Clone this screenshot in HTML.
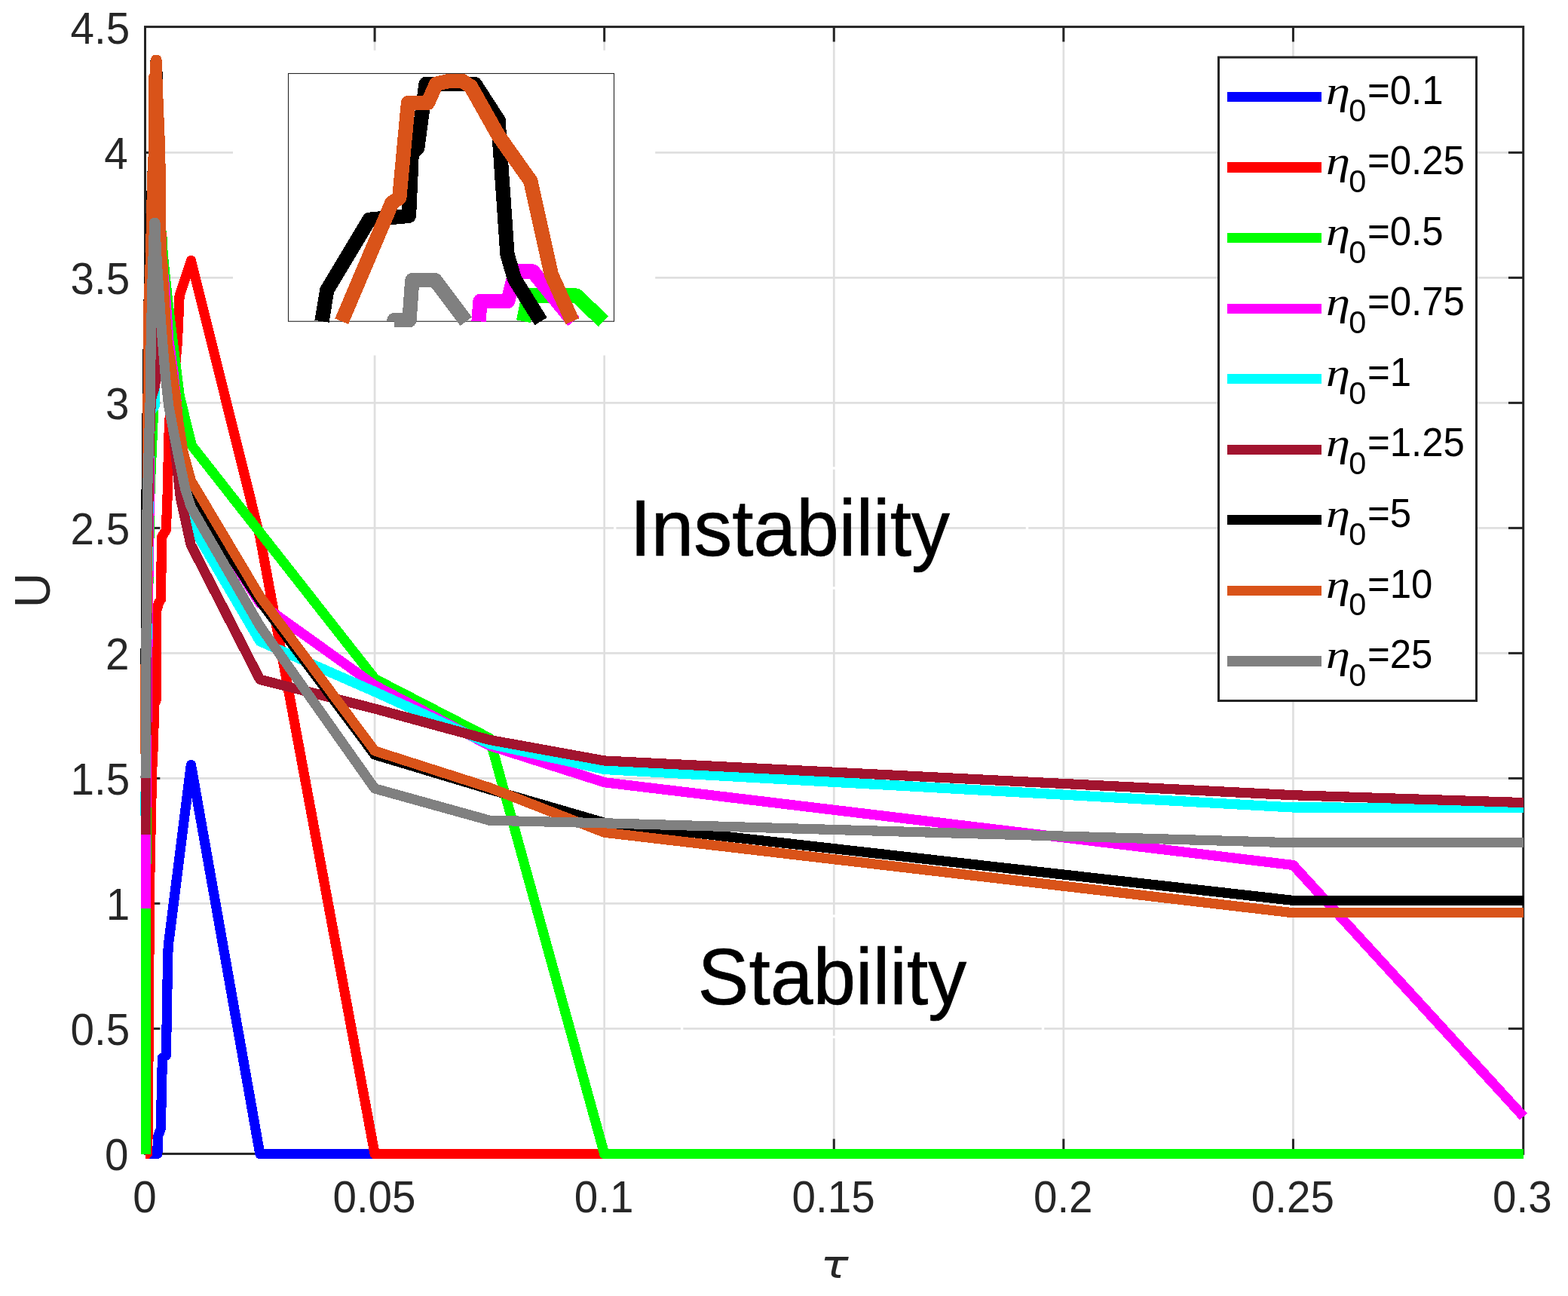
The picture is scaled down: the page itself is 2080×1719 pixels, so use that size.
<!DOCTYPE html>
<html lang="en"><head><meta charset="utf-8"><title>U versus tau stability diagram</title>
<style>
html,body{margin:0;padding:0;background:#fff;}
body{width:2080px;height:1719px;overflow:hidden;}
svg{display:block;}
text{font-family:"Liberation Sans",sans-serif;}
.dl{fill:none;stroke-linejoin:round;stroke-linecap:butt;}
</style></head><body>
<svg width="2080" height="1719" viewBox="0 0 2080 1719">
<rect x="0" y="0" width="2080" height="1719" fill="#ffffff"/>
<g stroke="#dfdfdf" stroke-width="2.7" fill="none">
<line x1="497.08" y1="35.60" x2="497.08" y2="1530.40"/>
<line x1="801.67" y1="35.60" x2="801.67" y2="1530.40"/>
<line x1="1106.26" y1="35.60" x2="1106.26" y2="1530.40"/>
<line x1="1410.84" y1="35.60" x2="1410.84" y2="1530.40"/>
<line x1="1715.42" y1="35.60" x2="1715.42" y2="1530.40"/>
<line x1="192.50" y1="1364.36" x2="2020.70" y2="1364.36"/>
<line x1="192.50" y1="1198.36" x2="2020.70" y2="1198.36"/>
<line x1="192.50" y1="1032.36" x2="2020.70" y2="1032.36"/>
<line x1="192.50" y1="866.36" x2="2020.70" y2="866.36"/>
<line x1="192.50" y1="700.36" x2="2020.70" y2="700.36"/>
<line x1="192.50" y1="534.36" x2="2020.70" y2="534.36"/>
<line x1="192.50" y1="368.36" x2="2020.70" y2="368.36"/>
<line x1="192.50" y1="202.36" x2="2020.70" y2="202.36"/>
</g>
<g stroke="#242424" stroke-width="3.0" fill="none">
<rect x="192.50" y="35.60" width="1828.20" height="1494.80"/>
<line x1="497.08" y1="1530.40" x2="497.08" y2="1510.60"/>
<line x1="497.08" y1="35.60" x2="497.08" y2="55.40"/>
<line x1="801.67" y1="1530.40" x2="801.67" y2="1510.60"/>
<line x1="801.67" y1="35.60" x2="801.67" y2="55.40"/>
<line x1="1106.26" y1="1530.40" x2="1106.26" y2="1510.60"/>
<line x1="1106.26" y1="35.60" x2="1106.26" y2="55.40"/>
<line x1="1410.84" y1="1530.40" x2="1410.84" y2="1510.60"/>
<line x1="1410.84" y1="35.60" x2="1410.84" y2="55.40"/>
<line x1="1715.42" y1="1530.40" x2="1715.42" y2="1510.60"/>
<line x1="1715.42" y1="35.60" x2="1715.42" y2="55.40"/>
<line x1="192.50" y1="1364.36" x2="212.30" y2="1364.36"/>
<line x1="2020.70" y1="1364.36" x2="2000.90" y2="1364.36"/>
<line x1="192.50" y1="1198.36" x2="212.30" y2="1198.36"/>
<line x1="2020.70" y1="1198.36" x2="2000.90" y2="1198.36"/>
<line x1="192.50" y1="1032.36" x2="212.30" y2="1032.36"/>
<line x1="2020.70" y1="1032.36" x2="2000.90" y2="1032.36"/>
<line x1="192.50" y1="866.36" x2="212.30" y2="866.36"/>
<line x1="2020.70" y1="866.36" x2="2000.90" y2="866.36"/>
<line x1="192.50" y1="700.36" x2="212.30" y2="700.36"/>
<line x1="2020.70" y1="700.36" x2="2000.90" y2="700.36"/>
<line x1="192.50" y1="534.36" x2="212.30" y2="534.36"/>
<line x1="2020.70" y1="534.36" x2="2000.90" y2="534.36"/>
<line x1="192.50" y1="368.36" x2="212.30" y2="368.36"/>
<line x1="2020.70" y1="368.36" x2="2000.90" y2="368.36"/>
<line x1="192.50" y1="202.36" x2="212.30" y2="202.36"/>
<line x1="2020.70" y1="202.36" x2="2000.90" y2="202.36"/>
</g>
<g class="dl" stroke-width="13.2" shape-rendering="crispEdges">
<polyline stroke="#0000ff" points="192.50,1530.40 208.90,1530.40 209.10,1520.00 210.00,1506.00 213.40,1497.00 213.90,1470.00 214.50,1440.00 215.30,1410.00 215.40,1403.50 220.60,1399.50 220.70,1380.00 221.50,1340.00 222.10,1300.00 222.60,1270.00 223.30,1254.00 253.40,1014.50 344.80,1530.40 2021.00,1530.40"/>
<polyline stroke="#ff0000" points="192.50,1530.40 195.40,1530.40 196.20,1500.00 196.20,1415.00 197.20,1405.00 197.20,1270.00 198.50,1262.00 198.50,1160.00 199.50,1152.00 199.50,1110.00 200.40,1103.00 200.40,1062.00 201.25,1056.00 201.25,1020.00 202.25,1014.00 202.25,1000.00 203.25,994.00 203.25,970.00 204.50,962.00 204.50,935.00 207.25,928.00 207.25,812.00 210.40,800.00 213.50,795.00 214.10,745.00 214.70,712.00 220.40,703.00 220.80,690.00 221.90,665.00 223.40,600.00 224.50,560.00 232.90,481.00 235.50,452.00 238.10,392.50 253.50,345.60 344.80,712.00 497.10,1530.40 2021.00,1530.40"/>
<polyline stroke="#00ff00" points="193.50,1531.00 193.50,1280.00 193.90,1262.00 193.70,1200.00 194.50,1000.00 195.30,870.00 199.00,650.00 203.40,550.00 211.40,336.80 211.70,309.30 214.60,309.30 216.20,336.80 219.00,365.00 223.00,402.00 228.80,450.00 238.20,525.00 254.40,591.00 497.50,900.60 649.40,979.00 801.70,1530.40 2021.00,1530.40"/>
<polyline stroke="#ff00ff" points="193.30,1205.00 193.60,1110.00 194.50,1000.00 196.50,800.00 198.20,660.00 198.20,548.00 204.00,535.00 208.64,337.80 208.73,315.20 210.42,315.20 210.88,283.20 211.90,283.20 214.14,337.80 216.30,358.00 218.90,385.00 222.00,425.00 223.90,452.00 229.50,490.00 233.90,530.00 238.20,575.00 253.40,657.00 344.80,800.00 497.10,909.00 649.40,989.00 801.70,1037.70 1715.40,1147.50 2021.00,1481.00"/>
<polyline stroke="#00ffff" points="192.90,1082.00 193.80,950.00 196.00,750.00 198.00,600.00 198.50,548.00 205.30,538.00 206.00,500.00 209.00,420.00 212.00,345.00 216.00,420.00 221.00,500.00 229.00,560.00 238.20,625.00 253.40,695.00 344.80,850.60 497.10,917.50 649.40,986.80 801.70,1020.50 1715.40,1071.00 2021.00,1071.50"/>
<polyline stroke="#a2142f" points="193.50,1107.00 194.00,950.00 195.50,750.00 198.00,600.00 200.30,530.00 205.30,513.00 207.20,500.00 209.00,450.00 212.50,400.00 216.00,450.00 220.40,502.00 227.90,556.00 239.40,660.00 253.10,722.50 344.80,901.30 497.10,940.00 649.40,981.40 801.70,1009.00 1715.40,1054.70 2021.00,1064.60"/>
<polyline stroke="#000000" points="192.60,1000.00 193.00,900.00 193.60,700.00 195.60,500.00 197.00,400.00 199.11,336.81 199.42,303.46 202.00,227.66 204.40,223.62 204.57,155.91 204.92,150.86 205.38,83.15 208.47,83.15 209.84,121.55 209.90,141.76 210.38,265.06 210.82,291.33 212.42,336.81 215.50,380.00 219.50,455.00 229.00,525.00 238.20,590.00 253.40,657.50 344.80,797.00 497.10,1001.00 649.40,1046.90 801.70,1091.30 1715.40,1194.40 2021.00,1194.40"/>
<polyline stroke="#d95319" points="192.70,1000.00 192.70,895.00 194.90,823.00 195.40,650.00 196.50,455.00 197.10,400.00 198.40,370.00 199.70,335.00 200.35,296.00 201.60,245.00 202.50,215.00 203.66,203.00 203.66,102.40 205.55,102.40 206.06,82.10 206.80,79.10 207.90,79.10 210.20,138.00 212.30,190.00 213.30,235.00 213.50,290.00 214.60,336.80 215.90,350.00 217.15,380.00 218.40,400.00 219.65,420.00 222.15,455.00 225.60,475.00 229.35,500.00 233.10,525.00 236.85,560.00 243.10,600.00 253.40,637.50 344.80,791.00 497.10,996.00 649.40,1044.70 801.70,1104.20 1715.40,1210.80 2021.00,1210.80"/>
<polyline stroke="#808080" points="193.10,1032.00 194.50,760.00 195.20,665.00 199.40,525.00 200.20,450.00 201.60,396.00 202.20,365.00 203.50,329.00 204.70,295.30 205.90,295.30 207.15,327.00 209.00,359.00 211.60,396.00 213.60,427.50 215.70,455.00 219.50,500.00 223.60,537.50 230.70,575.00 238.25,612.50 245.75,648.75 253.40,672.50 344.80,830.40 497.10,1045.90 649.40,1088.20 801.70,1091.80 1715.40,1117.80 2021.00,1117.80"/>
</g>
<g fill="none" stroke="#ffffff" stroke-width="3.4">
<rect x="815.7" y="621" width="546.8" height="159"/>
<rect x="904.6" y="1215" width="478.9" height="160.5"/>
</g>
<text transform="translate(835.40,737.30) scale(0.9850,1.0200)" font-size="103.4" text-anchor="start" fill="#000000" stroke="#000000" stroke-width="0.7">Instability</text>
<text transform="translate(925.60,1331.90) scale(0.9850,1.0200)" font-size="103.4" text-anchor="start" fill="#000000" stroke="#000000" stroke-width="0.7">Stability</text>
<rect x="309" y="66.8" width="560.2" height="404.6" fill="#ffffff"/>
<rect x="382.5" y="97.5" width="432" height="328.75" fill="none" stroke="#262626" stroke-width="1.1"/>
<g class="dl" stroke-width="19.3" shape-rendering="crispEdges">
<polyline stroke="#00ff00" points="694.50,426.25 701.25,392.00 764.50,392.00 800.50,426.25"/>
<polyline stroke="#ff00ff" points="635.00,426.25 637.00,399.50 673.75,399.50 683.75,360.00 706.75,360.00 760.75,426.25"/>
<polyline stroke="#000000" points="427.00,426.25 433.75,385.00 490.00,291.25 542.50,286.25 546.25,202.50 553.75,196.25 565.00,111.50 630.00,111.50 661.25,160.00 662.50,185.00 673.00,337.50 682.50,370.00 717.50,426.25"/>
<polyline stroke="#d95319" points="453.25,426.25 520.00,268.75 529.75,262.50 541.50,136.25 567.50,136.25 578.75,111.25 595.00,107.50 613.50,107.50 624.50,114.75 661.25,180.00 703.75,240.00 731.25,363.75 759.25,426.25"/>
<polyline stroke="#808080" points="522.92,426.25 522.92,424.60 543.00,424.60 546.75,371.75 577.25,371.75 618.25,426.25"/>
</g>
<rect x="1616.5" y="76" width="342" height="853.5" fill="#ffffff" stroke="#242424" stroke-width="3.0"/>
<line x1="1628" y1="128.50" x2="1753" y2="128.50" stroke="#0000ff" stroke-width="13.2" shape-rendering="crispEdges"/>
<text transform="translate(1759.10,137.60) scale(1.2500,1.0000)" font-size="51.7" text-anchor="start" fill="#000000" style="font-family:'Liberation Serif',serif;font-style:italic">η</text>
<text transform="translate(1789.20,161.40) scale(1.0000,1.0350)" font-size="41.5" text-anchor="start" fill="#000000">0</text>
<text transform="translate(1813.90,137.60) scale(1.0000,1.0350)" font-size="51" text-anchor="start" fill="#000000">=0.1</text>
<line x1="1628" y1="222.06" x2="1753" y2="222.06" stroke="#ff0000" stroke-width="13.2" shape-rendering="crispEdges"/>
<text transform="translate(1759.10,231.16) scale(1.2500,1.0000)" font-size="51.7" text-anchor="start" fill="#000000" style="font-family:'Liberation Serif',serif;font-style:italic">η</text>
<text transform="translate(1789.20,254.96) scale(1.0000,1.0350)" font-size="41.5" text-anchor="start" fill="#000000">0</text>
<text transform="translate(1813.90,231.16) scale(1.0000,1.0350)" font-size="51" text-anchor="start" fill="#000000">=0.25</text>
<line x1="1628" y1="315.62" x2="1753" y2="315.62" stroke="#00ff00" stroke-width="13.2" shape-rendering="crispEdges"/>
<text transform="translate(1759.10,324.72) scale(1.2500,1.0000)" font-size="51.7" text-anchor="start" fill="#000000" style="font-family:'Liberation Serif',serif;font-style:italic">η</text>
<text transform="translate(1789.20,348.52) scale(1.0000,1.0350)" font-size="41.5" text-anchor="start" fill="#000000">0</text>
<text transform="translate(1813.90,324.72) scale(1.0000,1.0350)" font-size="51" text-anchor="start" fill="#000000">=0.5</text>
<line x1="1628" y1="409.18" x2="1753" y2="409.18" stroke="#ff00ff" stroke-width="13.2" shape-rendering="crispEdges"/>
<text transform="translate(1759.10,418.28) scale(1.2500,1.0000)" font-size="51.7" text-anchor="start" fill="#000000" style="font-family:'Liberation Serif',serif;font-style:italic">η</text>
<text transform="translate(1789.20,442.08) scale(1.0000,1.0350)" font-size="41.5" text-anchor="start" fill="#000000">0</text>
<text transform="translate(1813.90,418.28) scale(1.0000,1.0350)" font-size="51" text-anchor="start" fill="#000000">=0.75</text>
<line x1="1628" y1="502.74" x2="1753" y2="502.74" stroke="#00ffff" stroke-width="13.2" shape-rendering="crispEdges"/>
<text transform="translate(1759.10,511.84) scale(1.2500,1.0000)" font-size="51.7" text-anchor="start" fill="#000000" style="font-family:'Liberation Serif',serif;font-style:italic">η</text>
<text transform="translate(1789.20,535.64) scale(1.0000,1.0350)" font-size="41.5" text-anchor="start" fill="#000000">0</text>
<text transform="translate(1813.90,511.84) scale(1.0000,1.0350)" font-size="51" text-anchor="start" fill="#000000">=1</text>
<line x1="1628" y1="596.30" x2="1753" y2="596.30" stroke="#a2142f" stroke-width="13.2" shape-rendering="crispEdges"/>
<text transform="translate(1759.10,605.40) scale(1.2500,1.0000)" font-size="51.7" text-anchor="start" fill="#000000" style="font-family:'Liberation Serif',serif;font-style:italic">η</text>
<text transform="translate(1789.20,629.20) scale(1.0000,1.0350)" font-size="41.5" text-anchor="start" fill="#000000">0</text>
<text transform="translate(1813.90,605.40) scale(1.0000,1.0350)" font-size="51" text-anchor="start" fill="#000000">=1.25</text>
<line x1="1628" y1="689.86" x2="1753" y2="689.86" stroke="#000000" stroke-width="13.2" shape-rendering="crispEdges"/>
<text transform="translate(1759.10,698.96) scale(1.2500,1.0000)" font-size="51.7" text-anchor="start" fill="#000000" style="font-family:'Liberation Serif',serif;font-style:italic">η</text>
<text transform="translate(1789.20,722.76) scale(1.0000,1.0350)" font-size="41.5" text-anchor="start" fill="#000000">0</text>
<text transform="translate(1813.90,698.96) scale(1.0000,1.0350)" font-size="51" text-anchor="start" fill="#000000">=5</text>
<line x1="1628" y1="783.42" x2="1753" y2="783.42" stroke="#d95319" stroke-width="13.2" shape-rendering="crispEdges"/>
<text transform="translate(1759.10,792.52) scale(1.2500,1.0000)" font-size="51.7" text-anchor="start" fill="#000000" style="font-family:'Liberation Serif',serif;font-style:italic">η</text>
<text transform="translate(1789.20,816.32) scale(1.0000,1.0350)" font-size="41.5" text-anchor="start" fill="#000000">0</text>
<text transform="translate(1813.90,792.52) scale(1.0000,1.0350)" font-size="51" text-anchor="start" fill="#000000">=10</text>
<line x1="1628" y1="876.98" x2="1753" y2="876.98" stroke="#808080" stroke-width="13.2" shape-rendering="crispEdges"/>
<text transform="translate(1759.10,886.08) scale(1.2500,1.0000)" font-size="51.7" text-anchor="start" fill="#000000" style="font-family:'Liberation Serif',serif;font-style:italic">η</text>
<text transform="translate(1789.20,909.88) scale(1.0000,1.0350)" font-size="41.5" text-anchor="start" fill="#000000">0</text>
<text transform="translate(1813.90,886.08) scale(1.0000,1.0350)" font-size="51" text-anchor="start" fill="#000000">=25</text>
<text transform="translate(170.50,1551.56) scale(1.0000,1.0350)" font-size="56.6" text-anchor="end" fill="#262626">0</text>
<text transform="translate(172.20,1385.56) scale(1.0000,1.0350)" font-size="56.6" text-anchor="end" fill="#262626">0.5</text>
<text transform="translate(172.20,1219.56) scale(1.0000,1.0350)" font-size="56.6" text-anchor="end" fill="#262626">1</text>
<text transform="translate(172.20,1053.56) scale(1.0000,1.0350)" font-size="56.6" text-anchor="end" fill="#262626">1.5</text>
<text transform="translate(171.40,887.56) scale(1.0000,1.0350)" font-size="56.6" text-anchor="end" fill="#262626">2</text>
<text transform="translate(172.20,721.56) scale(1.0000,1.0350)" font-size="56.6" text-anchor="end" fill="#262626">2.5</text>
<text transform="translate(171.40,555.56) scale(1.0000,1.0350)" font-size="56.6" text-anchor="end" fill="#262626">3</text>
<text transform="translate(172.20,389.56) scale(1.0000,1.0350)" font-size="56.6" text-anchor="end" fill="#262626">3.5</text>
<text transform="translate(169.80,223.56) scale(1.0000,1.0350)" font-size="56.6" text-anchor="end" fill="#262626">4</text>
<text transform="translate(172.20,57.56) scale(1.0000,1.0350)" font-size="56.6" text-anchor="end" fill="#262626">4.5</text>
<text transform="translate(191.90,1608.20) scale(1.0000,1.0350)" font-size="56.6" text-anchor="middle" fill="#262626">0</text>
<text transform="translate(496.48,1608.20) scale(1.0000,1.0350)" font-size="56.6" text-anchor="middle" fill="#262626">0.05</text>
<text transform="translate(801.07,1608.20) scale(1.0000,1.0350)" font-size="56.6" text-anchor="middle" fill="#262626">0.1</text>
<text transform="translate(1105.66,1608.20) scale(1.0000,1.0350)" font-size="56.6" text-anchor="middle" fill="#262626">0.15</text>
<text transform="translate(1410.24,1608.20) scale(1.0000,1.0350)" font-size="56.6" text-anchor="middle" fill="#262626">0.2</text>
<text transform="translate(1714.83,1608.20) scale(1.0000,1.0350)" font-size="56.6" text-anchor="middle" fill="#262626">0.25</text>
<text transform="translate(2019.41,1608.20) scale(1.0000,1.0350)" font-size="56.6" text-anchor="middle" fill="#262626">0.3</text>
<text transform="translate(1088.50,1694.90) scale(1.1800,1.0000)" font-size="52.2" text-anchor="start" fill="#262626" style="font-family:'DejaVu Sans',sans-serif;font-style:italic">τ</text>
<text transform="translate(65.50,783.00) rotate(-90) scale(1.0000,1.0250)" font-size="64.4" text-anchor="middle" fill="#262626">U</text>
</svg>
</body></html>
